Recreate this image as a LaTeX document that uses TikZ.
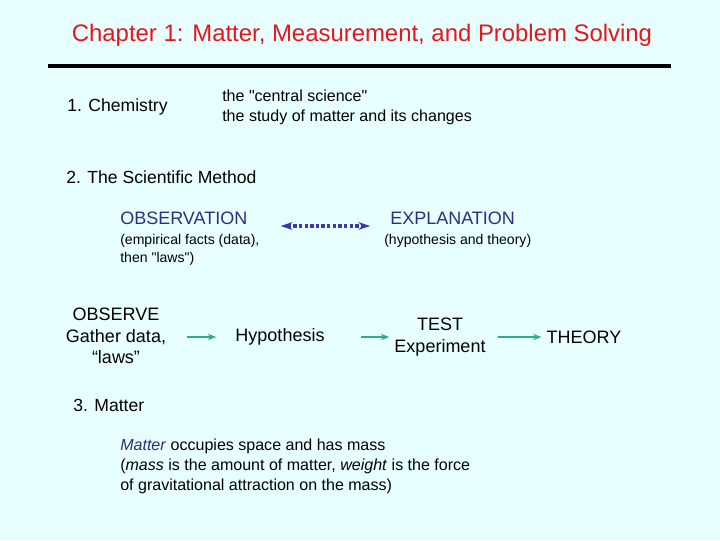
\documentclass[tikz,border=0pt]{standalone}
\usepackage{fontspec}
\setmainfont{Liberation Sans}
\usetikzlibrary{arrows.meta, positioning}
\definecolor{slidebg}{HTML}{E8FFFF}
\definecolor{titlered}{HTML}{E8151B}
\definecolor{dotblue}{HTML}{3A3AAE}
\definecolor{flowteal}{HTML}{2EAA95}
\definecolor{mattblue}{HTML}{2E2E80}
\newcommand{\sq}{\textquotedbl{}}

\begin{document}
\begin{tikzpicture}[
    x=0.025cm, y=-0.025cm,
    % Node styles
    heading/.style={anchor=west, inner sep=0pt, font=\fontsize{12.5}{15}\selectfont},
    body/.style={anchor=west, inner sep=0pt, align=left, font=\fontsize{11.4}{14.2}\selectfont},
    label/.style={anchor=west, inner sep=0pt, mattblue, font=\fontsize{12.8}{15}\selectfont},
    small/.style={anchor=west, inner sep=0pt, align=left, font=\fontsize{10}{13}\selectfont},
    stage/.style={inner sep=0pt, align=center, font=\fontsize{12.8}{15.2}\selectfont},
    flow/.style={-{Stealth[length=6pt, width=4.5pt]}, flowteal, line width=1.5pt},
    linkdots/.style={{Stealth[length=8.5pt, width=5.5pt]}-{Stealth[length=8.5pt, width=5.5pt]}, dotblue, line width=2.2pt, dash pattern=on 2.4pt off 1.6pt},
]

% Background
\fill[slidebg] (0,0) rectangle (720,540);
\useasboundingbox (0,0) rectangle (720,540);

% Title
\node[titlered, font=\fontsize{17}{20}\selectfont] (title) at (362,35) {Chapter 1: Matter, Measurement, and Problem Solving};
\draw[line width=2.2pt] (48,66) -- (671,66);

% 1. Chemistry
\node[heading] (chem) at (67,107) {1. Chemistry};
\node[body] (chemdef) at (222,107) {the \sq central science\sq\\the study of matter and its changes};

% 2. The Scientific Method
\node[heading] (method) at (66,177) {2. The Scientific Method};
\node[label] (observation) at (120,218) {OBSERVATION};
\node[label] (explanation) at (390,218) {EXPLANATION};
\node[small] (facts) at (120,250) {(empirical facts (data),\\then \sq laws\sq)};
\node[small] (hypo) at (384,241) {(hypothesis and theory)};

\draw[linkdots, shorten <=23.4pt, shorten >=14pt] ([yshift=-0.2cm]observation.east) -- ([yshift=-0.2cm]explanation.west);

% Steps
\node[stage] (observe) at (116,336) {OBSERVE\\Gather data,\\``laws''};
\node[stage] (hypothesis) at (280,337) {Hypothesis};
\node[stage] (test) at (440,337) {TEST\\Experiment};
\node[stage] (theory) at (584,337) {THEORY};

\draw[flow, shorten <=14.9pt, shorten >=13.5pt] (observe.east |- hypothesis) -- (hypothesis.west);
\draw[flow, shorten <=25.5pt, shorten >=3.5pt] (hypothesis.east) -- (test.west);
\draw[flow, shorten <=8.5pt, shorten >=3.5pt] (test.east) -- (theory.west);

% 3. Matter
\node[heading] (matter) at (73,405) {3. Matter};
\node[body] (matterdef) at (120,466) {\textcolor{mattblue}{\textit{Matter}} occupies space and has mass\\(\textit{mass} is the amount of matter, \textit{weight} is the force\\of gravitational attraction on the mass)};

\end{tikzpicture}
\end{document}
